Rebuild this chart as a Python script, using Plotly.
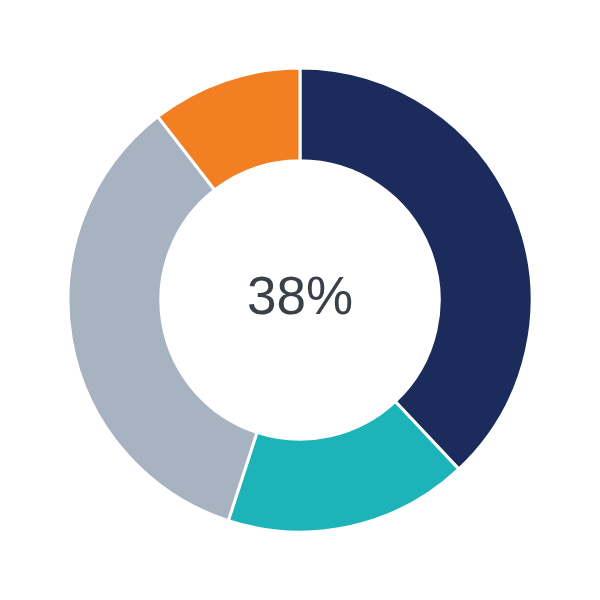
import plotly.graph_objects as go

# segment data, clockwise from 12 o'clock
labels = ['Navy', 'Teal', 'Gray', 'Orange']
values = [38, 17, 34.5, 10.5]
colors = ['#1b2b5b', '#1cb4b8', '#a8b3c2', '#f27f21']
center_label = '38%'

fig = go.Figure(go.Pie(
    labels=labels,
    values=values,
    hole=0.6,
    sort=False,
    direction='clockwise',
    rotation=0,
    marker=dict(colors=colors, line=dict(color='white', width=3)),
    textinfo='none',
    hoverinfo='label+percent',
    showlegend=False
))

fig.add_annotation(
    text=center_label, x=0.5, y=0.5, xref='paper', yref='paper',
    showarrow=False, yshift=5,
    font=dict(family='Liberation Sans, Arial, sans-serif', size=53, color='#3b3f48')
)

# margins offset by 8px to make up for the page's body margin
fig.update_layout(
    width=600,
    height=600,
    margin=dict(l=60, r=76, t=60, b=76),
    paper_bgcolor='white',
    plot_bgcolor='white'
)

fig.write_html("out.html")
